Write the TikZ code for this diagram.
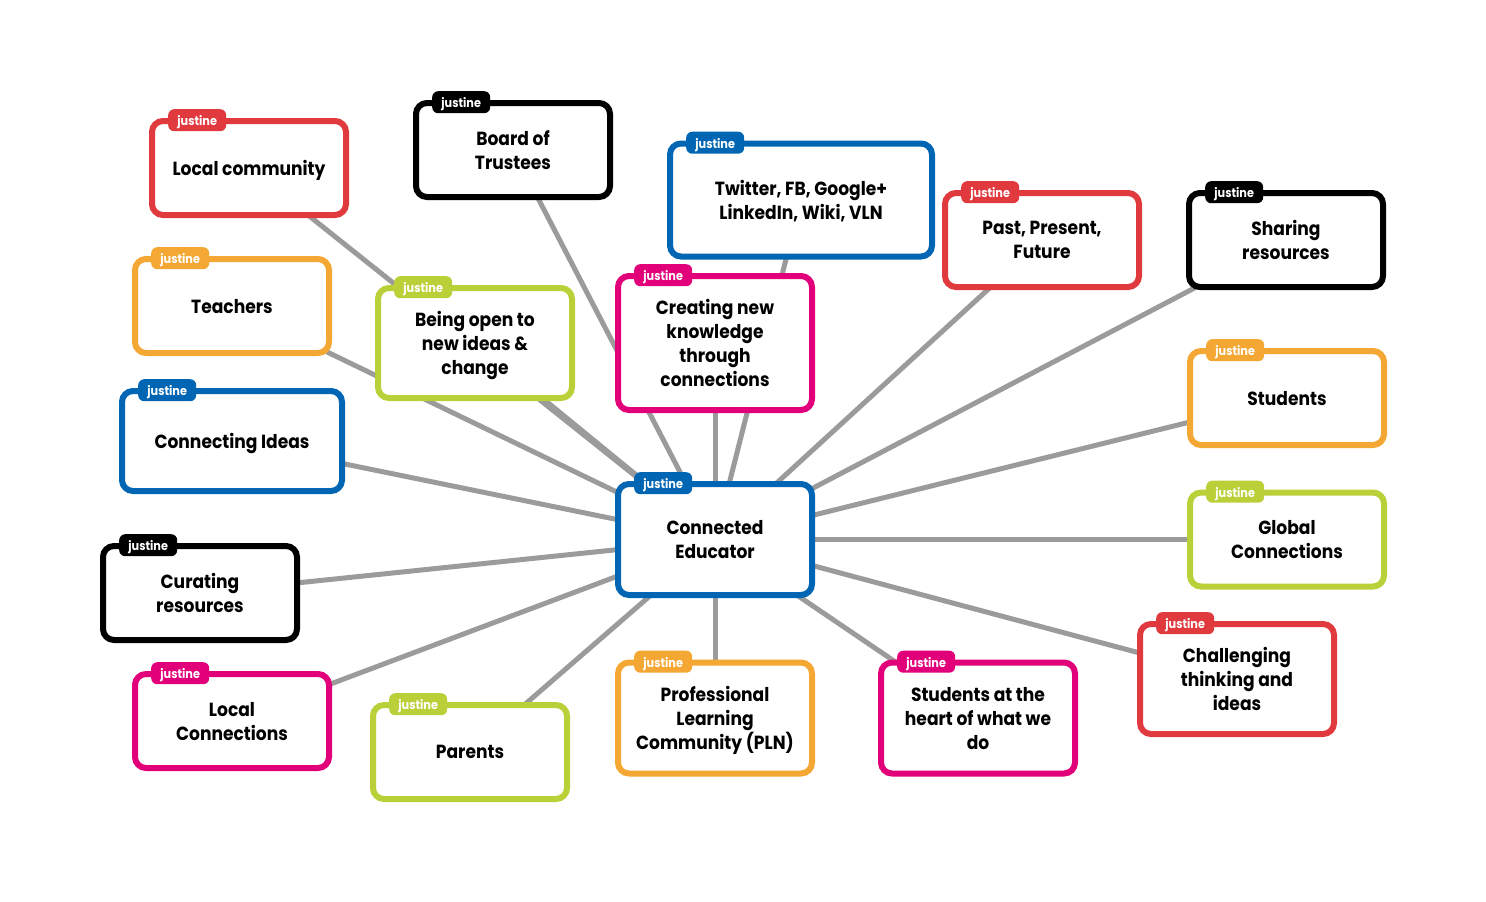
\documentclass[tikz,border=0pt]{standalone}
\usepackage{fontspec}
\setmainfont{Poppins}[FakeStretch=0.9]
\usetikzlibrary{backgrounds}
\definecolor{redline}{HTML}{E0393E}
\definecolor{blueline}{HTML}{0066B3}
\definecolor{orangeline}{HTML}{F5A733}
\definecolor{greenline}{HTML}{BAD038}
\definecolor{pinkline}{HTML}{E2007A}
\definecolor{greyline}{HTML}{9B9B9B}
\tikzset{
  idea/.style={draw=#1, fill=white, line width=6pt, rounded corners=11pt, inner sep=0pt,
    minimum width=194pt, minimum height=94pt, align=center, text depth=0pt,
    font=\fontsize{19}{24}\selectfont\bfseries},
  author/.style={fill=#1, text=white, rounded corners=6pt, inner sep=0pt, anchor=north west,
    minimum width=58pt, minimum height=22pt, text height=11pt, text depth=0pt,
    font=\fontsize{12.5}{14}\selectfont\bfseries},
  link/.style={greyline, line width=5pt}
}
\begin{document}
\begin{tikzpicture}[x=1pt,y=-1pt]
  \useasboundingbox (0,0) rectangle (1486,902);
  \node [idea=blueline, minimum height=111pt] (hub) at (715,539.5) {Connected\\Educator};
  \node [idea=redline] (community) at (249,168) {Local community};
  \node [idea=black] (trustees) at (513,150) {Board of\\Trustees};
  \node [idea=blueline, minimum width=262pt, minimum height=113pt] (social) at (801,200) {Twitter, FB, Google+\\LinkedIn, Wiki, VLN};
  \node [idea=redline] (past) at (1042,240) {Past, Present,\\Future};
  \node [idea=black] (sharing) at (1286,240) {Sharing\\resources};
  \node [idea=orangeline] (teachers) at (232,306) {Teachers};
  \node [idea=greenline, minimum height=110pt] (open) at (475,343) {Being open to\\new ideas \&\\change};
  \node [idea=pinkline, minimum height=134pt] (creating) at (715,343) {Creating new\\knowledge\\through\\connections};
  \node [idea=blueline, minimum width=220pt, minimum height=100pt] (connecting) at (232,441) {Connecting Ideas};
  \node [idea=orangeline] (students) at (1287,398) {Students};
  \node [idea=greenline] (global) at (1287,539.5) {Global\\Connections};
  \node [idea=black] (curating) at (200,593) {Curating\\resources};
  \node [idea=pinkline] (localconn) at (232,721) {Local\\Connections};
  \node [idea=greenline] (parents) at (470,752) {Parents};
  \node [idea=orangeline, minimum height=111pt] (pln) at (715,718) {Professional\\Learning\\Community (PLN)};
  \node [idea=pinkline, minimum height=111pt] (heart) at (978,718) {Students at the\\heart of what we\\do};
  \node [idea=redline, minimum height=110pt] (challenge) at (1237,679) {Challenging\\thinking and\\ideas};
  \node [author=blueline] (hubtag) at ([xshift=19pt,yshift=9pt]hub.north west) {justine};
  \node [author=redline] (communitytag) at ([xshift=19pt,yshift=9pt]community.north west) {justine};
  \node [author=black] (trusteestag) at ([xshift=19pt,yshift=9pt]trustees.north west) {justine};
  \node [author=blueline] (socialtag) at ([xshift=19pt,yshift=9pt]social.north west) {justine};
  \node [author=redline] (pasttag) at ([xshift=19pt,yshift=9pt]past.north west) {justine};
  \node [author=black] (sharingtag) at ([xshift=19pt,yshift=9pt]sharing.north west) {justine};
  \node [author=orangeline] (teacherstag) at ([xshift=19pt,yshift=9pt]teachers.north west) {justine};
  \node [author=greenline] (opentag) at ([xshift=19pt,yshift=9pt]open.north west) {justine};
  \node [author=pinkline] (creatingtag) at ([xshift=19pt,yshift=9pt]creating.north west) {justine};
  \node [author=blueline] (connectingtag) at ([xshift=19pt,yshift=9pt]connecting.north west) {justine};
  \node [author=orangeline] (studentstag) at ([xshift=19pt,yshift=9pt]students.north west) {justine};
  \node [author=greenline] (globaltag) at ([xshift=19pt,yshift=9pt]global.north west) {justine};
  \node [author=black] (curatingtag) at ([xshift=19pt,yshift=9pt]curating.north west) {justine};
  \node [author=pinkline] (localconntag) at ([xshift=19pt,yshift=9pt]localconn.north west) {justine};
  \node [author=greenline] (parentstag) at ([xshift=19pt,yshift=9pt]parents.north west) {justine};
  \node [author=orangeline] (plntag) at ([xshift=19pt,yshift=9pt]pln.north west) {justine};
  \node [author=pinkline] (hearttag) at ([xshift=19pt,yshift=9pt]heart.north west) {justine};
  \node [author=redline] (challengetag) at ([xshift=19pt,yshift=9pt]challenge.north west) {justine};
  \begin{pgfonlayer}{background}
    \draw [link] (hub.center) -- (community.center);
    \draw [link] (hub.center) -- (trustees.center);
    \draw [link] (hub.center) -- (social.center);
    \draw [link] (hub.center) -- (past.center);
    \draw [link] (hub.center) -- (sharing.center);
    \draw [link] (hub.center) -- (teachers.center);
    \draw [link] (hub.center) -- (open.center);
    \draw [link] (hub.center) -- (creating.center);
    \draw [link] (hub.center) -- (connecting.center);
    \draw [link] (hub.center) -- (students.center);
    \draw [link] (hub.center) -- (global.center);
    \draw [link] (hub.center) -- (curating.center);
    \draw [link] (hub.center) -- (localconn.center);
    \draw [link] (hub.center) -- (parents.center);
    \draw [link] (hub.center) -- (pln.center);
    \draw [link] (hub.center) -- (heart.center);
    \draw [link] (hub.center) -- (challenge.center);
  \end{pgfonlayer}
\end{tikzpicture}
\end{document}
